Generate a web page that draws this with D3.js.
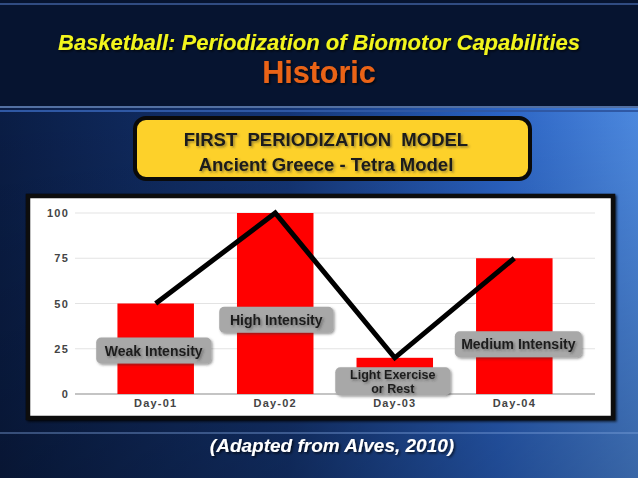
<!DOCTYPE html>
<html>
<head>
  <meta charset="UTF-8">
  <script src="https://cdn.jsdelivr.net/npm/d3@7"></script>
  <style>
    body { margin: 0; background: #061430; }
    text { font-family: "Liberation Sans", Arial, sans-serif; }
  </style>
</head>
<body>
<script>
  // chart values
  var days = ["Day-01", "Day-02", "Day-03", "Day-04"];
  var intensity = [50, 100, 20, 75];
  var yTicks = [0, 25, 50, 75, 100];
  var labelText = [["Weak Intensity"], ["High Intensity"], ["Light Exercise", "or Rest"], ["Medium Intensity"]];
  var labelValue = [24, 41, 7, 27.5];

  var width = 638, height = 478;

  var svg = d3.select("body").append("svg")
    .attr("width", width)
    .attr("height", height);

  var defs = svg.append("defs");

  var bg = defs.append("linearGradient").attr("id", "bg")
    .attr("x1", "0%").attr("x2", "100%").attr("y1", "0%").attr("y2", "0%");
  bg.append("stop").attr("offset", "0%").attr("stop-color", "#0a1d45");
  bg.append("stop").attr("offset", "45%").attr("stop-color", "#143574");
  bg.append("stop").attr("offset", "78%").attr("stop-color", "#2a62c2");
  bg.append("stop").attr("offset", "100%").attr("stop-color", "#4c88de");

  var shade = defs.append("linearGradient").attr("id", "shade")
    .attr("x1", "0%").attr("x2", "0%").attr("y1", "0%").attr("y2", "100%");
  shade.append("stop").attr("offset", "0%").attr("stop-color", "#000").attr("stop-opacity", 0);
  shade.append("stop").attr("offset", "100%").attr("stop-color", "#000").attr("stop-opacity", 0.25);

  var drop = defs.append("filter").attr("id", "drop")
    .attr("x", "-10%").attr("y", "-10%").attr("width", "130%").attr("height", "140%");
  drop.append("feDropShadow").attr("dx", 1.5).attr("dy", 1.5)
    .attr("stdDeviation", 1).attr("flood-color", "#000").attr("flood-opacity", 0.7);

  var soft = defs.append("filter").attr("id", "soft")
    .attr("x", "-10%").attr("y", "-10%").attr("width", "130%").attr("height", "140%");
  soft.append("feDropShadow").attr("dx", 1.5).attr("dy", 1.5)
    .attr("stdDeviation", 1).attr("flood-color", "#333").attr("flood-opacity", 0.5);

  // slide background
  svg.append("rect").attr("x", 0).attr("y", 0).attr("width", width).attr("height", height)
    .attr("fill", "url(#bg)");
  svg.append("rect").attr("x", 0).attr("y", 110).attr("width", width).attr("height", height - 110)
    .attr("fill", "url(#shade)");
  svg.append("rect").attr("x", 0).attr("y", 0).attr("width", width).attr("height", 108)
    .attr("fill", "#061430");
  svg.append("line").attr("x1", 0).attr("x2", width).attr("y1", 4).attr("y2", 4)
    .attr("stroke", "#3f5f9e").attr("stroke-width", 1.5);
  svg.append("line").attr("x1", 0).attr("x2", width).attr("y1", 107).attr("y2", 107)
    .attr("stroke", "#6d8fc8").attr("stroke-width", 1.5);
  svg.append("line").attr("x1", 0).attr("x2", width).attr("y1", 111).attr("y2", 111)
    .attr("stroke", "#2f58a4").attr("stroke-width", 2);
  svg.append("line").attr("x1", 0).attr("x2", width).attr("y1", 433).attr("y2", 433)
    .attr("stroke", "#7fa2dc").attr("stroke-width", 1).attr("opacity", 0.8);

  // titles
  svg.append("text").attr("x", 319).attr("y", 50)
    .attr("text-anchor", "middle").attr("fill", "#f2f51e")
    .attr("font-size", 22).attr("font-weight", "bold").attr("font-style", "italic")
    .attr("filter", "url(#drop)")
    .text("Basketball: Periodization of Biomotor Capabilities");
  svg.append("text").attr("x", 319).attr("y", 83)
    .attr("text-anchor", "middle").attr("fill", "#ea6419")
    .attr("font-size", 30.5).attr("font-weight", "bold")
    .attr("filter", "url(#drop)")
    .text("Historic");

  // yellow box
  svg.append("rect").attr("x", 135).attr("y", 118).attr("width", 395).attr("height", 61)
    .attr("rx", 11).attr("fill", "#fdd12a").attr("stroke", "#0a0a0a").attr("stroke-width", 4);
  svg.append("text").attr("x", 326).attr("y", 146)
    .attr("text-anchor", "middle").attr("fill", "#1a1a1a")
    .attr("font-size", 18.5).attr("font-weight", "bold").attr("filter", "url(#soft)")
    .text("FIRST\u00a0 PERIODIZATION\u00a0 MODEL");
  svg.append("text").attr("x", 326).attr("y", 171)
    .attr("text-anchor", "middle").attr("fill", "#1a1a1a")
    .attr("font-size", 18.5).attr("font-weight", "bold").attr("filter", "url(#soft)")
    .text("Ancient Greece - Tetra Model");

  // chart frame
  svg.append("rect").attr("x", 28).attr("y", 196).attr("width", 585).attr("height", 222)
    .attr("fill", "#ffffff").attr("stroke", "#080808").attr("stroke-width", 4.5)
    .attr("filter", "url(#drop)");

  var x = d3.scaleBand().domain(days).range([75, 595])
    .paddingInner(0.36).paddingOuter(0.355);
  var y = d3.scaleLinear().domain([0, 100]).range([394, 213]);

  var plot = svg.append("g");

  plot.append("g")
    .selectAll("line").data(yTicks).enter().append("line")
    .attr("x1", 75).attr("x2", 595)
    .attr("y1", function (d) { return y(d); })
    .attr("y2", function (d) { return y(d); })
    .attr("stroke", function (d) { return d === 0 ? "#8a8a8a" : "#e3e3e3"; })
    .attr("stroke-width", function (d) { return d === 0 ? 1.2 : 1; });

  var yAxis = d3.axisLeft(y).tickValues(yTicks).tickSize(0).tickPadding(0);
  var ya = plot.append("g").attr("transform", "translate(69,0)").call(yAxis);
  ya.select(".domain").remove();
  ya.selectAll("text")
    .attr("font-family", "DejaVu Sans, Verdana, sans-serif")
    .attr("font-size", 11).attr("font-weight", "bold").attr("fill", "#444")
    .attr("letter-spacing", 1.2);

  var xAxis = d3.axisBottom(x).tickSize(0).tickPadding(0);
  var xa = plot.append("g").attr("transform", "translate(0,399)").call(xAxis);
  xa.select(".domain").remove();
  xa.selectAll("text")
    .attr("font-family", "DejaVu Sans, Verdana, sans-serif")
    .attr("font-size", 11).attr("font-weight", "bold").attr("fill", "#444")
    .attr("letter-spacing", 1.2);

  plot.selectAll(".bar").data(intensity).enter().append("rect")
    .attr("class", "bar")
    .attr("x", function (d, i) { return x(days[i]); })
    .attr("width", x.bandwidth())
    .attr("y", function (d) { return y(d); })
    .attr("height", function (d) { return y(0) - y(d); })
    .attr("fill", "#ff0000");

  var line = d3.line()
    .x(function (d, i) { return x(days[i]) + x.bandwidth() / 2; })
    .y(function (d) { return y(d); });
  plot.append("path").datum(intensity)
    .attr("d", line)
    .attr("fill", "none").attr("stroke", "#000").attr("stroke-width", 5)
    .attr("stroke-linejoin", "miter");

  // labels
  var labelFont = [14, 14, 12.5, 14];
  var labelW = [115, 114, 115, 127];
  var labelDx = [-2, 1, -2, 4];
  var lab = plot.selectAll(".lab").data(labelText).enter().append("g")
    .attr("class", "lab")
    .attr("transform", function (d, i) {
      var cx = x(days[i]) + x.bandwidth() / 2 + labelDx[i];
      return "translate(" + cx + "," + y(labelValue[i]) + ")";
    });
  lab.append("rect")
    .attr("x", function (d, i) { return -labelW[i] / 2; })
    .attr("y", function (d) { return d.length > 1 ? -14 : -13; })
    .attr("width", function (d, i) { return labelW[i]; })
    .attr("height", function (d) { return d.length > 1 ? 28 : 26; })
    .attr("rx", 5).attr("fill", "#a8a8a8")
    .attr("filter", "url(#soft)");
  lab.each(function (d, i) {
    var g = d3.select(this);
    d.forEach(function (t, k) {
      g.append("text")
        .attr("text-anchor", "middle")
        .attr("y", d.length > 1 ? (k === 0 ? -2 : 12) : 5)
        .attr("font-size", labelFont[i]).attr("font-weight", "bold")
        .attr("fill", "#1c1c1c").attr("filter", "url(#soft)")
        .text(t);
    });
  });

  // source note
  svg.append("text").attr("x", 332).attr("y", 452)
    .attr("text-anchor", "middle").attr("fill", "#ffffff")
    .attr("font-size", 19).attr("font-weight", "bold").attr("font-style", "italic")
    .attr("filter", "url(#drop)")
    .text("(Adapted from Alves, 2010)");
</script>
</body>
</html>
